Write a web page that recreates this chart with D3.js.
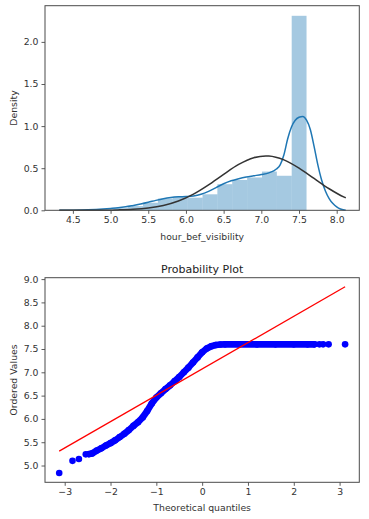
<!DOCTYPE html>
<html>
<head>
<meta charset="utf-8">
<script src="https://cdn.jsdelivr.net/npm/d3@7"></script>
<style>
  html, body { margin: 0; padding: 0; background: #fff; }
  svg { display: block; font-family: "DejaVu Sans", sans-serif; }
</style>
</head>
<body>
<svg id="chart" width="369" height="519"></svg>
<script>
// ---------- Data: distribution plot ----------
const histEdges = [4.84, 5.037, 5.234, 5.431, 5.628, 5.826, 6.023, 6.22, 6.417, 6.614, 6.812, 7.009, 7.206, 7.403, 7.60];
const histDensity = [0.008, 0.025, 0.05, 0.09, 0.14, 0.16, 0.15, 0.19, 0.31, 0.36, 0.39, 0.46, 0.41, 2.31];

const kdeX = [4.32, 4.5, 4.7, 4.9, 5.0, 5.1, 5.2, 5.3, 5.4, 5.5, 5.6, 5.7, 5.8, 5.9, 6.0, 6.1, 6.2, 6.3, 6.4, 6.5, 6.6, 6.7, 6.8, 6.9, 7.0, 7.1, 7.2, 7.25, 7.3, 7.35, 7.4, 7.45, 7.5, 7.55, 7.6, 7.65, 7.7, 7.75, 7.8, 7.85, 7.9, 7.95, 8.0, 8.05, 8.1, 8.12];
const kdeY = [0.0005, 0.002, 0.006, 0.015, 0.022, 0.03, 0.042, 0.058, 0.075, 0.095, 0.118, 0.138, 0.152, 0.16, 0.163, 0.17, 0.19, 0.225, 0.27, 0.315, 0.35, 0.375, 0.395, 0.41, 0.425, 0.445, 0.49, 0.54, 0.66, 0.85, 0.99, 1.07, 1.105, 1.115, 1.07, 0.96, 0.76, 0.54, 0.36, 0.23, 0.14, 0.08, 0.04, 0.015, 0.004, 0.002];

const fitX = [4.32, 4.5, 4.7, 4.9, 5.1, 5.3, 5.5, 5.7, 5.9, 6.1, 6.3, 6.5, 6.7, 6.9, 7.06, 7.1, 7.3, 7.5, 7.7, 7.9, 8.1, 8.12];
const fitY = [0.0001, 0.0002, 0.0006, 0.0018, 0.005, 0.012, 0.028, 0.058, 0.111, 0.193, 0.303, 0.428, 0.545, 0.625, 0.646, 0.645, 0.599, 0.501, 0.378, 0.256, 0.156, 0.148];

const distXTicks = [4.5, 5.0, 5.5, 6.0, 6.5, 7.0, 7.5, 8.0];
const distYTicks = [0.0, 0.5, 1.0, 1.5, 2.0];

// ---------- Data: probability plot ----------
const qqBandQ = [-2.47, -2.40, -2.30, -2.2, -2.1, -2.0, -1.9, -1.8, -1.7, -1.6, -1.5, -1.4, -1.3, -1.2, -1.1, -1.0, -0.9, -0.8, -0.7, -0.6, -0.5, -0.4, -0.3, -0.2, -0.1, 0.0, 0.1, 0.2, 0.3, 0.4, 0.5, 0.8, 1.2, 1.6, 2.0, 2.3, 2.45];
const qqBandV = [5.245, 5.26, 5.32, 5.37, 5.43, 5.48, 5.54, 5.61, 5.68, 5.76, 5.85, 5.93, 6.03, 6.17, 6.33, 6.46, 6.55, 6.64, 6.72, 6.81, 6.90, 7.00, 7.10, 7.21, 7.32, 7.43, 7.51, 7.56, 7.585, 7.597, 7.60, 7.60, 7.60, 7.60, 7.60, 7.60, 7.60];
const qqTailQ = [-3.12, -2.83, -2.69, -2.54, 2.56, 2.64, 2.76, 3.12];
const qqTailV = [4.84, 5.10, 5.14, 5.24, 7.60, 7.60, 7.60, 7.60];
const qqFitQ = [-3.12, 3.12];
const qqFitV = [5.31, 8.835];

const ppXTicks = [-3, -2, -1, 0, 1, 2, 3];
const ppYTicks = [5.0, 5.5, 6.0, 6.5, 7.0, 7.5, 8.0, 8.5, 9.0];

// ---------- Drawing ----------
const svg = d3.select("#chart");
const axisColor = "#4a4a4a";
const textColor = "#333";
const tickFont = 9.3;

function styleAxis(g) {
  g.selectAll(".domain").remove();
  g.selectAll(".tick line").attr("stroke", axisColor).attr("stroke-width", 0.9);
  g.selectAll(".tick text").attr("fill", textColor).attr("font-size", tickFont)
    .attr("font-family", "DejaVu Sans, sans-serif");
}

function frame(left, top, right, bottom) {
  svg.append("rect").attr("x", left).attr("y", top)
    .attr("width", right - left).attr("height", bottom - top)
    .attr("fill", "none").attr("stroke", axisColor).attr("stroke-width", 1);
}

// ----- Top panel -----
const T = { left: 45, right: 359.3, top: 5.7, bottom: 210.3 };
const x1 = d3.scaleLinear().domain([4.13, 8.30]).range([T.left, T.right]);
const y1 = d3.scaleLinear().domain([0, 2.43]).range([T.bottom, T.top]);

const gTop = svg.append("g");
const bins = histDensity.map((d, i) => ({ x0: histEdges[i], x1: histEdges[i + 1], y: d }));
gTop.selectAll("rect.bar").data(bins).join("rect")
  .attr("class", "bar")
  .attr("x", d => x1(d.x0))
  .attr("width", d => x1(d.x1) - x1(d.x0))
  .attr("y", d => y1(d.y))
  .attr("height", d => y1(0) - y1(d.y))
  .attr("fill", "#1f77b4").attr("fill-opacity", 0.4);

const kde = kdeX.map((x, i) => [x, kdeY[i]]);
const fit = fitX.map((x, i) => [x, fitY[i]]);
const line1 = d3.line().x(d => x1(d[0])).y(d => y1(d[1])).curve(d3.curveMonotoneX);

gTop.append("path").datum(kde).attr("d", line1)
  .attr("fill", "none").attr("stroke", "#1f77b4").attr("stroke-width", 1.5);
gTop.append("path").datum(fit).attr("d", line1)
  .attr("fill", "none").attr("stroke", "#333").attr("stroke-width", 1.5);

frame(T.left, T.top, T.right, T.bottom);

const ax1x = svg.append("g").attr("transform", `translate(0,${T.bottom})`)
  .call(d3.axisBottom(x1).tickValues(distXTicks).tickFormat(d3.format(".1f")).tickSize(3.5).tickPadding(3));
styleAxis(ax1x);
const ax1y = svg.append("g").attr("transform", `translate(${T.left},0)`)
  .call(d3.axisLeft(y1).tickValues(distYTicks).tickFormat(d3.format(".1f")).tickSize(3.5).tickPadding(3));
styleAxis(ax1y);

svg.append("text").attr("x", (T.left + T.right) / 2).attr("y", 240)
  .attr("text-anchor", "middle").attr("font-size", tickFont).attr("fill", textColor)
  .text("hour_bef_visibility");
svg.append("text").attr("transform", `translate(17,${(T.top + T.bottom) / 2}) rotate(-90)`)
  .attr("text-anchor", "middle").attr("font-size", tickFont).attr("fill", textColor)
  .text("Density");

// ----- Bottom panel -----
const B = { left: 45, right: 359.3, top: 277.7, bottom: 482.3 };
const x2 = d3.scaleLinear().domain([-3.43, 3.43]).range([B.left, B.right]);
const y2 = d3.scaleLinear().domain([4.64, 9.03]).range([B.bottom, B.top]);

const gBot = svg.append("g");
const band = qqBandQ.map((q, i) => [q, qqBandV[i]]);
const tail = qqTailQ.map((q, i) => [q, qqTailV[i]]);
const line2 = d3.line().x(d => x2(d[0])).y(d => y2(d[1]));

gBot.append("path").datum(band).attr("d", line2)
  .attr("fill", "none").attr("stroke", "#0000ff").attr("stroke-width", 6.6)
  .attr("stroke-linecap", "round").attr("stroke-linejoin", "round");
gBot.selectAll("circle.band").data(band).join("circle")
  .attr("class", "band").attr("cx", d => x2(d[0])).attr("cy", d => y2(d[1]))
  .attr("r", 3.3).attr("fill", "#0000ff");
gBot.selectAll("circle.tail").data(tail).join("circle")
  .attr("class", "tail").attr("cx", d => x2(d[0])).attr("cy", d => y2(d[1]))
  .attr("r", 3.3).attr("fill", "#0000ff");

const fitLine = qqFitQ.map((q, i) => [q, qqFitV[i]]);
gBot.append("path").datum(fitLine).attr("d", line2)
  .attr("fill", "none").attr("stroke", "#ff0000").attr("stroke-width", 1.3);

frame(B.left, B.top, B.right, B.bottom);

const ax2x = svg.append("g").attr("transform", `translate(0,${B.bottom})`)
  .call(d3.axisBottom(x2).tickValues(ppXTicks).tickFormat(d3.format("d")).tickSize(3.5).tickPadding(3));
styleAxis(ax2x);
const ax2y = svg.append("g").attr("transform", `translate(${B.left},0)`)
  .call(d3.axisLeft(y2).tickValues(ppYTicks).tickFormat(d3.format(".1f")).tickSize(3.5).tickPadding(3));
styleAxis(ax2y);

svg.append("text").attr("x", (B.left + B.right) / 2).attr("y", 511)
  .attr("text-anchor", "middle").attr("font-size", tickFont).attr("fill", textColor)
  .text("Theoretical quantiles");
svg.append("text").attr("transform", `translate(17,${(B.top + B.bottom) / 2}) rotate(-90)`)
  .attr("text-anchor", "middle").attr("font-size", tickFont).attr("fill", textColor)
  .text("Ordered Values");
svg.append("text").attr("x", (B.left + B.right) / 2).attr("y", 273)
  .attr("text-anchor", "middle").attr("font-size", 11).attr("fill", "#222")
  .text("Probability Plot");
</script>
</body>
</html>
